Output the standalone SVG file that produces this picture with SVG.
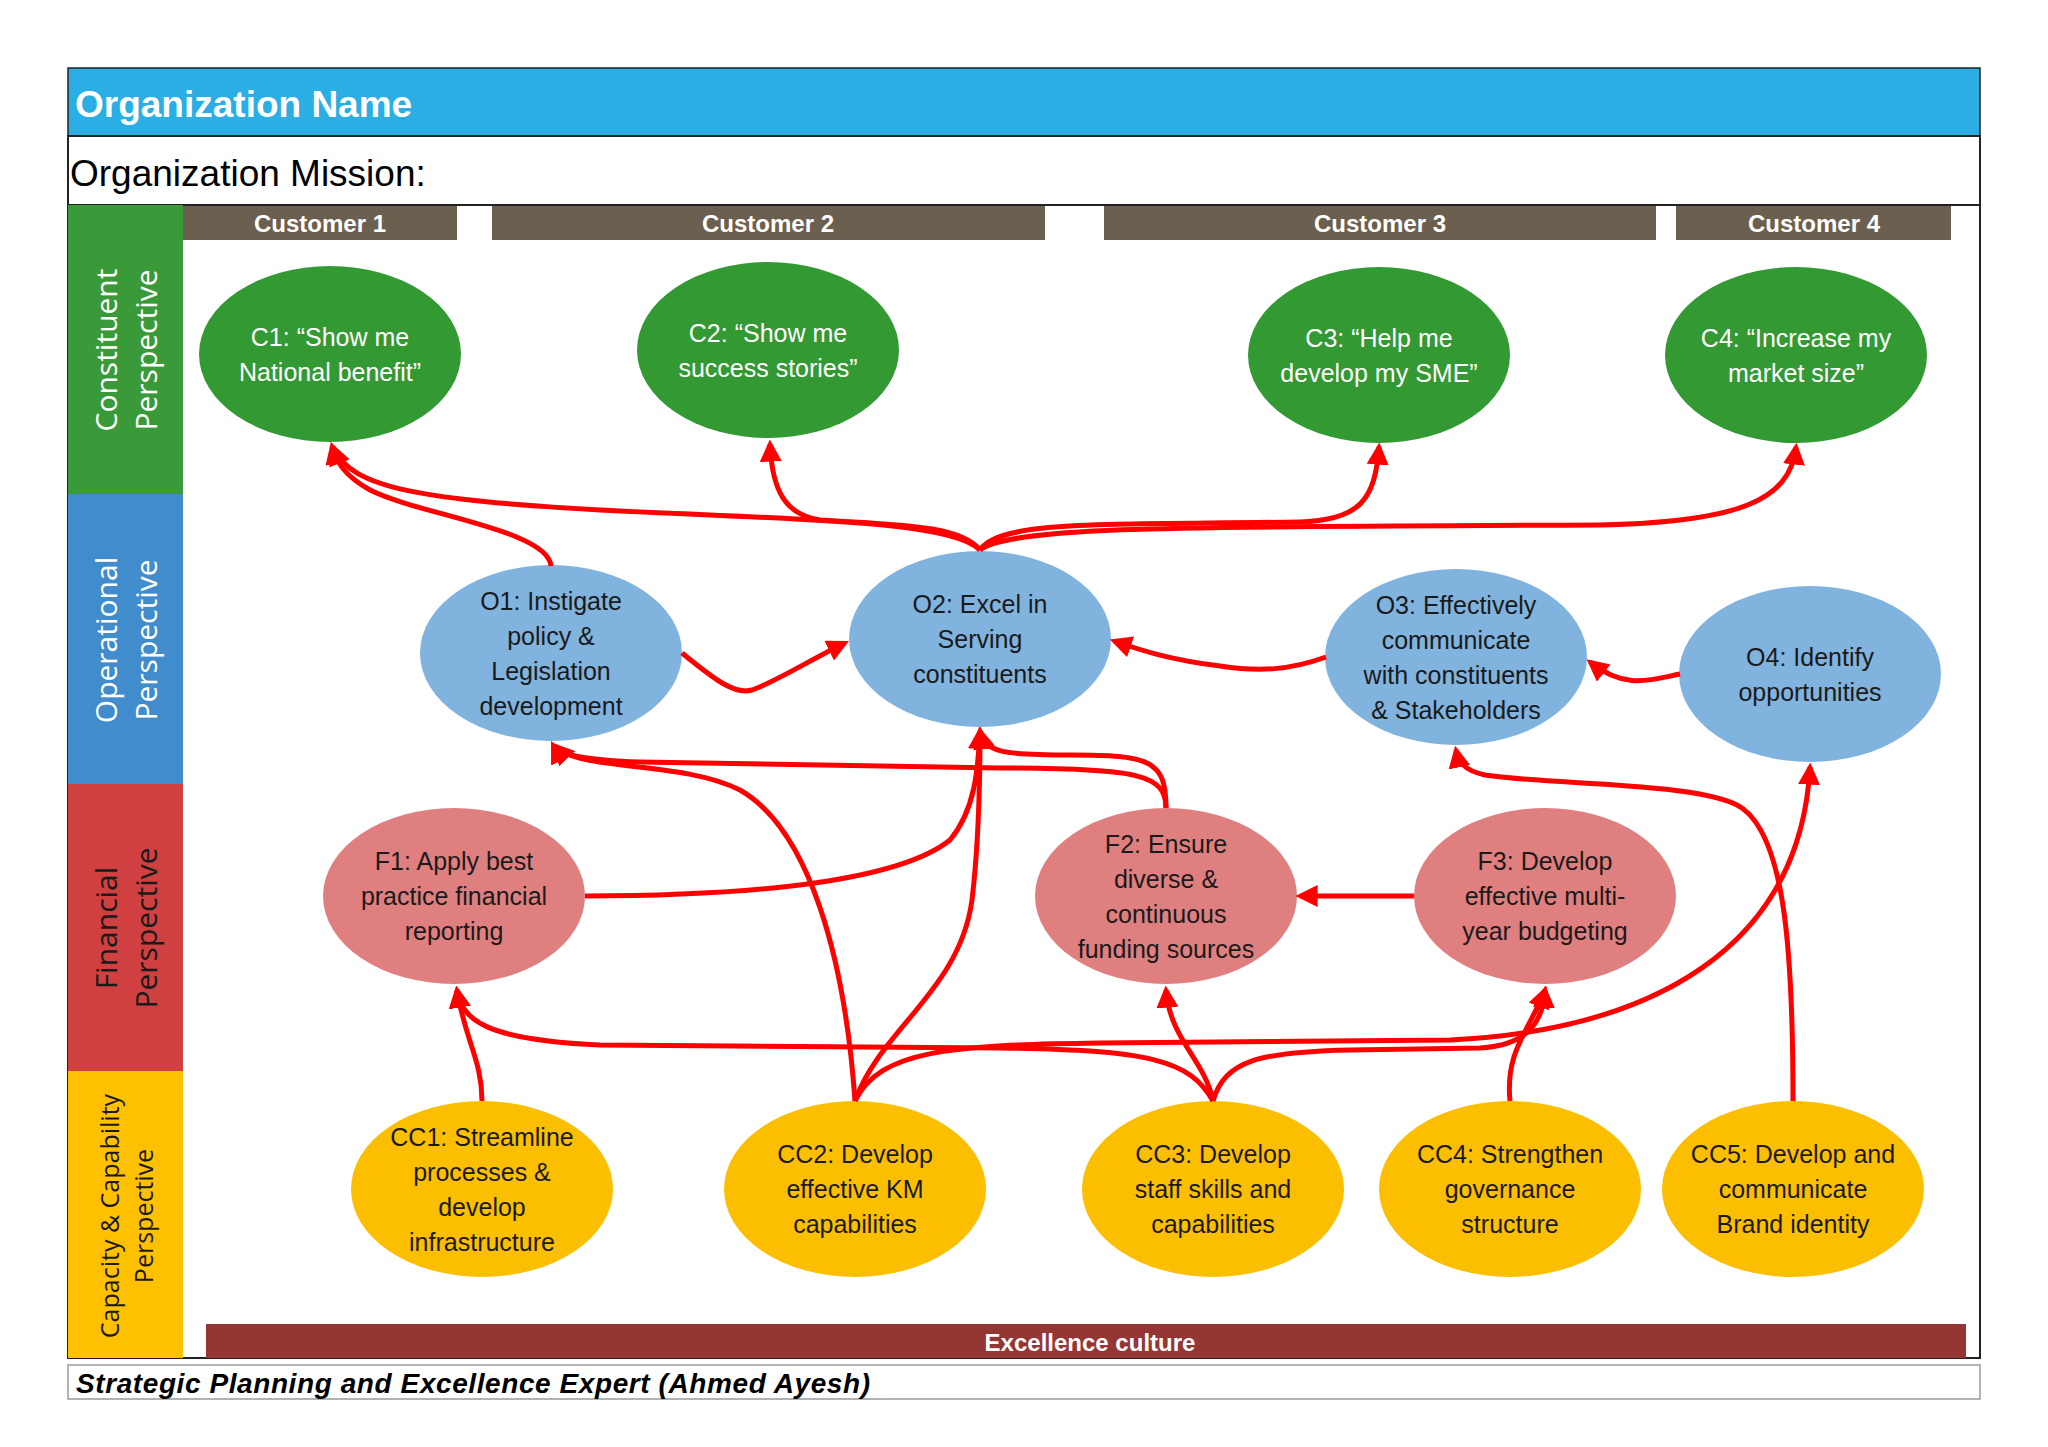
<svg xmlns="http://www.w3.org/2000/svg" width="2048" height="1447" viewBox="0 0 2048 1447">
<defs>
<style>
.nt{font-family:"Liberation Sans",Arial,sans-serif;font-size:25px;text-anchor:middle}
.w{fill:#fff}.k{fill:#1a1a1a}
.lane{font-family:"Open Sans","DejaVu Sans",sans-serif;font-size:30px;text-anchor:middle}
.cust{font-family:"Liberation Sans",Arial,sans-serif;font-size:24px;font-weight:bold;fill:#fff;text-anchor:middle}
.c{fill:none;stroke:#ff0000;stroke-width:5;marker-end:url(#ah)}
.g{fill:#339933}.b{fill:#80b3de}.r{fill:#e07f80}.y{fill:#fcbf00}
</style>
<marker id="ah" viewBox="0 0 10 10" refX="8" refY="5" markerWidth="22" markerHeight="22" markerUnits="userSpaceOnUse" orient="auto">
<path d="M0,0 L10,5 L0,10 z" fill="#ff0000"/>
</marker>
</defs>
<rect width="2048" height="1447" fill="#fff"/>
<rect x="68" y="68" width="1912" height="68" fill="#2aaee4" stroke="#222" stroke-width="1.5"/>
<text x="75" y="117" font-family="Liberation Sans,Arial,sans-serif" font-size="37" font-weight="bold" fill="#fff">Organization Name</text>
<rect x="68" y="136" width="1912" height="69" fill="#fff" stroke="#222" stroke-width="2"/>
<text x="70" y="186" font-family="Liberation Sans,Arial,sans-serif" font-size="37" fill="#000">Organization Mission:</text>
<rect x="68" y="205" width="1912" height="1153" fill="#fff" stroke="#222" stroke-width="2"/>
<rect x="68" y="205" width="115" height="289" fill="#3a9a3a"/>
<rect x="68" y="494" width="115" height="290" fill="#418ccc"/>
<rect x="68" y="784" width="115" height="287" fill="#d04040"/>
<rect x="68" y="1071" width="115" height="287" fill="#ffc000"/>
<text class="lane w" transform="translate(125,350) rotate(-90)"><tspan x="0" y="-8">Constituent</tspan><tspan x="0" y="32">Perspective</tspan></text>
<text class="lane w" transform="translate(125,640) rotate(-90)"><tspan x="0" y="-8">Operational</tspan><tspan x="0" y="32">Perspective</tspan></text>
<text class="lane k" transform="translate(125,928) rotate(-90)"><tspan x="0" y="-8">Financial</tspan><tspan x="0" y="32">Perspective</tspan></text>
<text class="lane k" style="font-size:25px" transform="translate(125,1216) rotate(-90)"><tspan x="0" y="-6">Capacity &amp; Capability</tspan><tspan x="0" y="28">Perspective</tspan></text>
<g id="customers">
<rect x="183" y="206" width="274" height="34" fill="#6b5f4f"/><text class="cust" x="320" y="232">Customer 1</text>
<rect x="492" y="206" width="553" height="34" fill="#6b5f4f"/><text class="cust" x="768" y="232">Customer 2</text>
<rect x="1104" y="206" width="552" height="34" fill="#6b5f4f"/><text class="cust" x="1380" y="232">Customer 3</text>
<rect x="1676" y="206" width="275" height="34" fill="#6b5f4f"/><text class="cust" x="1814" y="232">Customer 4</text>
</g>
<rect x="206" y="1324" width="1760" height="34" fill="#943634"/>
<text class="cust" x="1090" y="1351">Excellence  culture</text>
<rect x="68" y="1365" width="1912" height="34" fill="#fff" stroke="#999" stroke-width="1.5"/>
<text x="76" y="1393" font-family="Liberation Sans,Arial,sans-serif" font-size="28" font-weight="bold" font-style="italic" fill="#000" textLength="794">Strategic Planning and Excellence Expert (Ahmed Ayesh)</text>

<g id="C1"><ellipse class="g" cx="330" cy="354" rx="131" ry="88"/><text class="nt w"><tspan x="330" y="346">C1: “Show me</tspan><tspan x="330" y="381">National benefit”</tspan></text></g>
<g id="C2"><ellipse class="g" cx="768" cy="350" rx="131" ry="88"/><text class="nt w"><tspan x="768" y="342">C2: “Show me</tspan><tspan x="768" y="377">success stories”</tspan></text></g>
<g id="C3"><ellipse class="g" cx="1379" cy="355" rx="131" ry="88"/><text class="nt w"><tspan x="1379" y="347">C3: “Help me</tspan><tspan x="1379" y="382">develop my SME”</tspan></text></g>
<g id="C4"><ellipse class="g" cx="1796" cy="355" rx="131" ry="88"/><text class="nt w"><tspan x="1796" y="347">C4: “Increase my</tspan><tspan x="1796" y="382">market size”</tspan></text></g>

<g id="O1"><ellipse class="b" cx="551" cy="653" rx="131" ry="88"/><text class="nt k"><tspan x="551" y="610">O1: Instigate</tspan><tspan x="551" y="645">policy &amp;</tspan><tspan x="551" y="680">Legislation</tspan><tspan x="551" y="715">development</tspan></text></g>
<g id="O2"><ellipse class="b" cx="980" cy="639" rx="131" ry="88"/><text class="nt k"><tspan x="980" y="613">O2: Excel in</tspan><tspan x="980" y="648">Serving</tspan><tspan x="980" y="683">constituents</tspan></text></g>
<g id="O3"><ellipse class="b" cx="1456" cy="657" rx="131" ry="88"/><text class="nt k"><tspan x="1456" y="614">O3: Effectively</tspan><tspan x="1456" y="649">communicate</tspan><tspan x="1456" y="684">with constituents</tspan><tspan x="1456" y="719">&amp; Stakeholders</tspan></text></g>
<g id="O4"><ellipse class="b" cx="1810" cy="674" rx="131" ry="88"/><text class="nt k"><tspan x="1810" y="666">O4: Identify</tspan><tspan x="1810" y="701">opportunities</tspan></text></g>

<g id="F1"><ellipse class="r" cx="454" cy="896" rx="131" ry="88"/><text class="nt k"><tspan x="454" y="870">F1: Apply best</tspan><tspan x="454" y="905">practice financial</tspan><tspan x="454" y="940">reporting</tspan></text></g>
<g id="F2"><ellipse class="r" cx="1166" cy="896" rx="131" ry="88"/><text class="nt k"><tspan x="1166" y="853">F2: Ensure</tspan><tspan x="1166" y="888">diverse &amp;</tspan><tspan x="1166" y="923">continuous</tspan><tspan x="1166" y="958">funding sources</tspan></text></g>
<g id="F3"><ellipse class="r" cx="1545" cy="896" rx="131" ry="88"/><text class="nt k"><tspan x="1545" y="870">F3: Develop</tspan><tspan x="1545" y="905">effective multi-</tspan><tspan x="1545" y="940">year budgeting</tspan></text></g>

<g id="CC1"><ellipse class="y" cx="482" cy="1189" rx="131" ry="88"/><text class="nt k"><tspan x="482" y="1146">CC1: Streamline</tspan><tspan x="482" y="1181">processes &amp;</tspan><tspan x="482" y="1216">develop</tspan><tspan x="482" y="1251">infrastructure</tspan></text></g>
<g id="CC2"><ellipse class="y" cx="855" cy="1189" rx="131" ry="88"/><text class="nt k"><tspan x="855" y="1163">CC2: Develop</tspan><tspan x="855" y="1198">effective KM</tspan><tspan x="855" y="1233">capabilities</tspan></text></g>
<g id="CC3"><ellipse class="y" cx="1213" cy="1189" rx="131" ry="88"/><text class="nt k"><tspan x="1213" y="1163">CC3: Develop</tspan><tspan x="1213" y="1198">staff skills and</tspan><tspan x="1213" y="1233">capabilities</tspan></text></g>
<g id="CC4"><ellipse class="y" cx="1510" cy="1189" rx="131" ry="88"/><text class="nt k"><tspan x="1510" y="1163">CC4: Strengthen</tspan><tspan x="1510" y="1198">governance</tspan><tspan x="1510" y="1233">structure</tspan></text></g>
<g id="CC5"><ellipse class="y" cx="1793" cy="1189" rx="131" ry="88"/><text class="nt k"><tspan x="1793" y="1163">CC5: Develop and</tspan><tspan x="1793" y="1198">communicate</tspan><tspan x="1793" y="1233">Brand identity</tspan></text></g>

<g id="connectors">
<path class="c" d="M551,566 C548,530 420,515 370,490 C345,476 336,462 332,446"/>
<path class="c" d="M980,550 C950,520 800,520 600,510 C430,500 350,490 333,447"/>
<path class="c" d="M980,550 C960,525 900,525 820,520 C785,515 772,490 770,444"/>
<path class="c" d="M980,550 C1000,520 1100,525 1300,522 C1360,520 1375,500 1379,447"/>
<path class="c" d="M980,550 C1010,525 1200,527 1600,525 C1740,522 1790,500 1796,447"/>
<path class="c" d="M682,653 C715,680 735,695 752,690 C775,682 810,660 845,643"/>
<path class="c" d="M1326,657 C1290,670 1260,672 1220,666 C1170,660 1140,650 1114,641"/>
<path class="c" d="M1680,674 C1650,680 1625,690 1590,662"/>
<path class="c" d="M1166,808 C1166,775 1140,768 1000,768 L640,762 C585,760 558,755 553,745"/>
<path class="c" d="M1166,808 C1166,760 1150,755 1070,755 C1000,755 985,752 980,731"/>
<path class="c" d="M585,896 C760,896 900,880 950,840 C975,810 978,770 980,731"/>
<path class="c" d="M855,1101 C845,960 810,830 740,790 C680,760 580,772 555,746"/>
<path class="c" d="M855,1101 C880,1030 960,990 972,900 C978,850 980,790 980,731"/>
<path class="c" d="M1213,1101 C1190,1060 1150,1050 1000,1048 L600,1045 C485,1040 462,1020 457,990"/>
<path class="c" d="M1213,1101 C1205,1060 1170,1040 1166,990"/>
<path class="c" d="M1213,1101 C1225,1060 1260,1052 1350,1050 L1480,1048 C1530,1045 1543,1020 1545,990"/>
<path class="c" d="M855,1101 C880,1050 950,1045 1100,1043 L1450,1040 C1650,1030 1800,950 1810,767"/>
<path class="c" d="M1510,1101 C1505,1050 1530,1030 1545,990"/>
<path class="c" d="M1793,1101 C1793,950 1785,830 1737,805 C1690,782 1550,785 1485,775 C1462,770 1458,760 1456,750"/>
<path class="c" d="M1414,896 L1300,896"/>
<path class="c" d="M482,1101 C482,1060 465,1040 457,990"/>
</g>
</svg>
